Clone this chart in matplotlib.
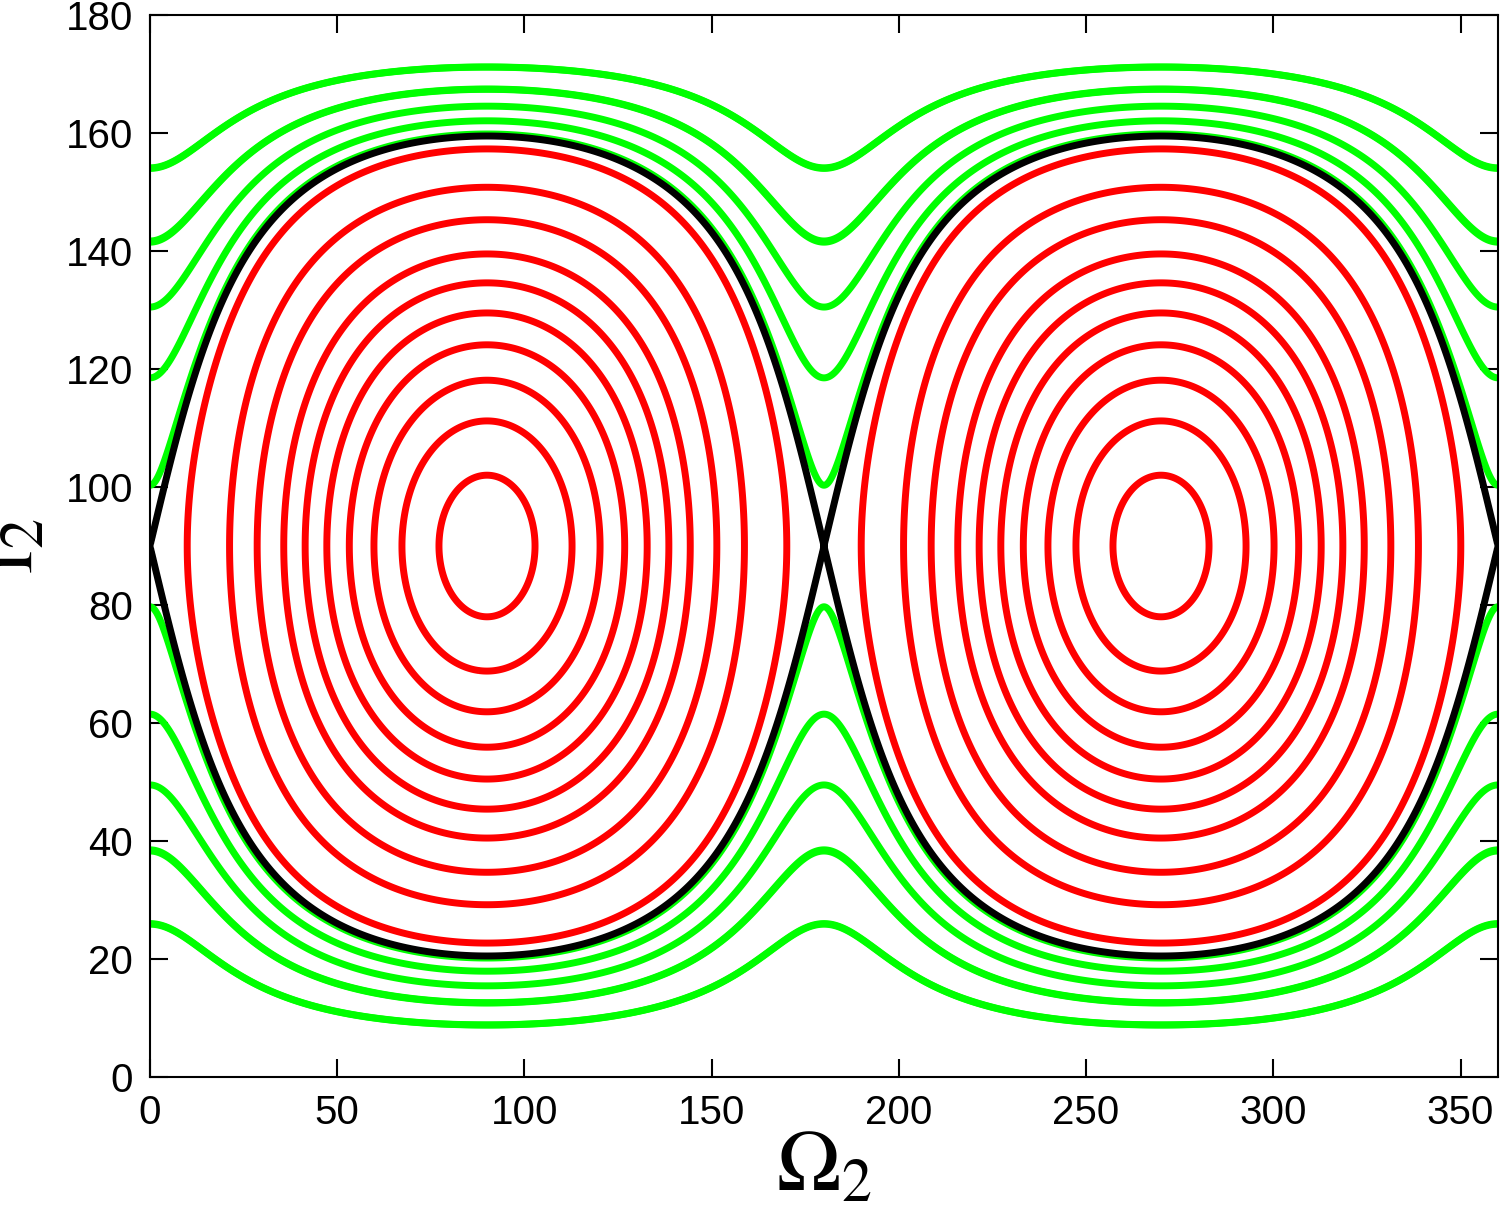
import numpy as np
import matplotlib
matplotlib.use("Agg")
import matplotlib.pyplot as plt

plt.rcParams['font.family'] = ['Liberation Sans', 'DejaVu Sans']
plt.rcParams['mathtext.fontset'] = 'stix'

# binary eccentricity, read from the separatrix height at Omega = 90
E_BIN = 0.767

# librating orbits (red): inclination reached at Omega_2 = 90 deg
RED_I_TOP = [157.3, 150.8, 145.3, 139.5, 134.6, 129.5, 124.1, 118.1, 111.2, 102.0]
# circulating orbits (green): inclination at Omega_2 = 0 deg
GREEN_I_0 = [154.1, 141.7, 130.5, 118.5, 100.3, 79.7, 61.5, 49.5, 38.5, 26.0]
# separatrix passes through i = 90 at Omega = 0
SEP_I_0 = [90.0]

XTICKS = [0, 50, 100, 150, 200, 250, 300, 350]
YTICKS = [0, 20, 40, 60, 80, 100, 120, 140, 160, 180]


def conserved(om, inc):
    # quadrupole secular integral for a test orbit around an eccentric binary
    om = np.radians(om)
    inc = np.radians(inc)
    return (1 - E_BIN**2) * np.cos(inc)**2 - 5 * E_BIN**2 * np.sin(inc)**2 * np.sin(om)**2


def main():
    fig = plt.figure(figsize=(15.01, 12.16), dpi=100)
    ax = fig.add_axes([150 / 1501, 1 - 1077 / 1216, 1348 / 1501, 1062 / 1216])

    om = np.linspace(0, 360, 1801)
    inc = np.linspace(0, 180, 1801)
    OM, INC = np.meshgrid(om, inc)
    K = conserved(OM, INC)

    red_lv = sorted(set(np.round(conserved(90.0, np.array(RED_I_TOP)), 8)))
    green_lv = sorted(set(np.round(conserved(0.0, np.array(GREEN_I_0)), 8)))
    sep_lv = [float(conserved(0.0, SEP_I_0[0]))]

    lw = 5.0
    ax.contour(OM, INC, K, levels=green_lv, colors='#00ff00', linewidths=lw,
               linestyles='solid')
    ax.contour(OM, INC, K, levels=red_lv, colors='#ff0000', linewidths=lw,
               linestyles='solid')
    ax.contour(OM, INC, K, levels=sep_lv, colors='black', linewidths=lw,
               linestyles='solid')

    ax.set_xlim(0, 360)
    ax.set_ylim(0, 180)
    ax.set_xticks(XTICKS)
    ax.set_yticks(YTICKS)
    ax.tick_params(direction='in', length=13, width=1.5, labelsize=29,
                   top=True, right=True, pad=12)
    for s in ax.spines.values():
        s.set_linewidth(1.5)

    ax.set_xlabel(r'$\Omega_2$', fontsize=62)
    ax.xaxis.set_label_coords(0.5, -0.049)
    ax.xaxis.label.set_va('top')
    ax.set_ylabel(r'$\mathrm{i}_2$', fontsize=62)
    ax.yaxis.set_label_coords(-0.074, 0.5)

    fig.savefig("out.png", dpi=100)


if __name__ == "__main__":
    main()
